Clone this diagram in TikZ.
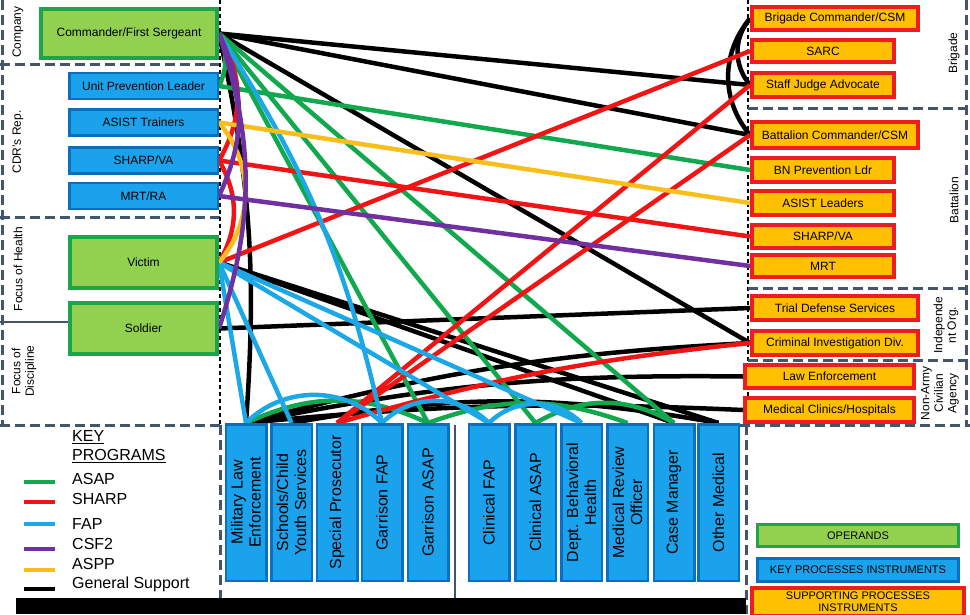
\documentclass[tikz,border=0pt]{standalone}
\usepackage{fontspec}
\setmainfont{Liberation Sans}
\usetikzlibrary{backgrounds}
\definecolor{opfill}{HTML}{92D050}
\definecolor{opline}{HTML}{1EA54A}
\definecolor{keyfill}{HTML}{1AA3EC}
\definecolor{keyline}{HTML}{0B6FBF}
\definecolor{supfill}{HTML}{FFC000}
\definecolor{supline}{HTML}{EE1C1C}
\definecolor{asapc}{HTML}{12A84E}
\definecolor{sharpc}{HTML}{F01414}
\definecolor{fapc}{HTML}{1CA8E6}
\definecolor{csfc}{HTML}{7030A0}
\definecolor{asppc}{HTML}{F8BE1C}
\definecolor{slate}{HTML}{44546A}

\begin{document}
\begin{tikzpicture}[x=1pt,y=-1pt,
  every node/.style={inner sep=0pt,align=center},
  lbl/.style={font=\fontsize{12}{14}\selectfont},
  opbox/.style={draw=opline,fill=opfill,line width=4pt,lbl},
  keybox/.style={draw=keyline,fill=keyfill,line width=2.5pt,lbl},
  supbox/.style={draw=supline,fill=supfill,line width=4pt,lbl},
  vbox/.style={keybox,rotate=90,minimum width=156.5,minimum height=40.5,font=\fontsize{16}{18}\selectfont},
  sz/.style 2 args={minimum width=#1,minimum height=#2},
  side/.style={rotate=90,font=\fontsize{12}{13.5}\selectfont},
  grp/.style={draw=slate,line width=3pt,dash pattern=on 10pt off 5pt},
  rim/.style={draw=black,line width=2pt,dash pattern=on 4pt off 3pt},
  keytxt/.style={anchor=west,font=\fontsize{16}{18}\selectfont},
  link/.style={line width=4.5pt},
  gen/.style={link,draw=black},
  asap/.style={link,draw=asapc},
  sharp/.style={link,draw=sharpc},
  fap/.style={link,draw=fapc},
  csf/.style={link,draw=csfc},
  aspp/.style={link,draw=asppc}]
\useasboundingbox (0,0) rectangle (970,614);

% Company, CDR's Rep., focus (left column)
\node[opbox,sz={176}{49}] (cfs) at (129,33.5) {Commander/First Sergeant};
\node[keybox,sz={148.5}{26}] (upl) at (143.5,86) {Unit Prevention Leader};
\node[keybox,sz={148.5}{26}] (asist) at (143.5,122.5) {ASIST Trainers};
\node[keybox,sz={148.5}{26}] (sharpl) at (143.5,160.5) {SHARP/VA};
\node[keybox,sz={148.5}{26}] (mrtl) at (143.5,196) {MRT/RA};
\node[opbox,sz={147}{51}] (victim) at (143.5,262.5) {Victim};
\node[opbox,sz={147}{51}] (soldier) at (143.5,328.5) {Soldier};

% group labels
\node[side] (lcomp) at (18,32) {Company};
\node[side] (lcdr) at (18,142) {CDR's Rep.};
\node[side] (lhealth) at (18,269) {Focus of Health};
\node[side] (ldisc) at (24,371) {Focus of\\Discipline};
\node[side] (lbde) at (954,53) {Brigade};
\node[side] (lbn) at (954,200) {Battalion};
\node[side] (lind) at (946,325) {Independe\\nt Org.};
\node[side] (lciv) at (940,393) {Non-Army\\Civilian\\Agency};

% Brigade, Battalion, other agencies (right column)
\node[supbox,sz={166}{23}] (bde) at (835,18.5) {Brigade Commander/CSM};
\node[supbox,sz={142}{22}] (sarc) at (823,51) {SARC};
\node[supbox,sz={142}{24}] (sja) at (823,85) {Staff Judge Advocate};
\node[supbox,sz={166}{26}] (bn) at (835,135) {Battalion Commander/CSM};
\node[supbox,sz={142}{24}] (bnpl) at (823,170) {BN Prevention Ldr};
\node[supbox,sz={142}{24}] (asistl) at (823,203) {ASIST Leaders};
\node[supbox,sz={142}{23}] (sharpr) at (823,236.5) {SHARP/VA};
\node[supbox,sz={142}{22}] (mrt) at (823,266) {MRT};
\node[supbox,sz={166}{24}] (tds) at (835,308) {Trial Defense Services};
\node[supbox,sz={166}{24}] (cid) at (835,343) {Criminal Investigation Div.};
\node[supbox,sz={169}{23}] (le) at (829.5,376.5) {Law Enforcement};
\node[supbox,sz={169}{24}] (mch) at (829.5,410) {Medical Clinics/Hospitals};

% key processes (bottom row, turned: .east is the top side)
\node[vbox] (mle) at (246,502.5) {Military Law\\Enforcement};
\node[vbox] (scys) at (291.5,502.5) {Schools/Child\\Youth Services};
\node[vbox] (sp) at (337,502.5) {Special Prosecutor};
\node[vbox] (gfap) at (382,502.5) {Garrison FAP};
\node[vbox] (gasap) at (428,502.5) {Garrison ASAP};
\node[vbox] (cfap) at (489,502.5) {Clinical FAP};
\node[vbox] (casap) at (535.5,502.5) {Clinical ASAP};
\node[vbox] (dbh) at (581.5,502.5) {Dept. Behavioral\\Health};
\node[vbox] (mro) at (627.5,502.5) {Medical Review\\Officer};
\node[vbox] (cm) at (674,502.5) {Case Manager};
\node[vbox] (om) at (718.5,502.5) {Other Medical};

% box legend
\node[opbox,line width=3pt,sz={201}{22},font=\fontsize{11}{13}\selectfont] (ops) at (858,535.5) {OPERANDS};
\node[keybox,sz={201}{23},font=\fontsize{11}{13}\selectfont] (kpi) at (858,570) {KEY PROCESSES INSTRUMENTS};
\node[supbox,sz={212}{28},font=\fontsize{11}{12}\selectfont] (spi) at (858,602) {SUPPORTING PROCESSES\\INSTRUMENTS};

% program legend
\node[keytxt] (keyt) at (72,437) {\underline{KEY}};
\node[keytxt] (progt) at (72,456) {\underline{PROGRAMS}};
\node[keytxt] (tasap) at (72,479) {ASAP};
\node[keytxt] (tsharp) at (72,499) {SHARP};
\node[keytxt] (tfap) at (72,524) {FAP};
\node[keytxt] (tcsf) at (72,544) {CSF2};
\node[keytxt] (taspp) at (72,564) {ASPP};
\node[keytxt] (tgen) at (72,584) {General Support};
\draw[asap,line width=4pt] (24,482) -- (55,482);
\draw[sharp,line width=4pt] (24,502) -- (55,502);
\draw[fap,line width=4pt] (24,524) -- (55,524);
\draw[csf,line width=4pt] (24,549) -- (55,549);
\draw[aspp,line width=4pt] (24,570) -- (55,570);
\draw[gen,line width=4pt] (24,589) -- (55,589);

\fill (16,598) rectangle (746,614);

\begin{scope}[on background layer]
% group frames
\draw[grp] (2,0) -- (2,425);
\draw[grp] (0,64) -- (220,64);
\draw[grp] (0,217) -- (220,217);
\draw[grp] (0,425) -- (220,425);
\draw[slate,line width=2.5pt] (0,322) -- (68,322);
\draw[grp] (220,425) -- (220,600);
\draw[rim] (220,0) -- (220,425);
\draw[rim] (748,0) -- (748,425);
\draw[grp] (746,425) -- (746,614);
\draw[grp] (748,108) -- (970,108);
\draw[grp] (748,288) -- (970,288);
\draw[grp] (748,360) -- (970,360);
\draw[grp] (740,425) -- (970,425);
\draw[grp] (966,0) -- (966,425);
\draw[slate,line width=2pt] (455,425) -- (455,614);

% General Support
\draw[gen] (cfs.east) -- (sja.west);
\draw[gen] (cfs.east) -- (bn.west);
\draw[gen] (cfs.east) -- (cid.west);
\draw[gen] (cfs.east) to[bend left=8] (mle.east);
\draw[gen] (bde.west) to[bend right=40] (sja.west);
\draw[gen] (bde.west) to[bend right=40] (bn.west);
\draw[gen] (soldier.east) -- (tds.west);
\draw[gen] (victim.east) -- (om.east);
\draw[gen] (victim.east) -- (cm.east);
\draw[gen] (mle.east) to[bend left=6] (cid.west);
\draw[gen] (mle.east) to[bend left=6] (le.west);
\draw[gen] (mle.east) to[bend left=4] (mch.west);
\draw[gen] (scys.east) to[bend left=10] (om.east);
% ASAP
\draw[asap] (upl.east) -- (bnpl.west);
\draw[asap] (upl.east) to[bend right=25] (cfs.east);
\draw[asap] (cfs.east) -- (gasap.east);
\draw[asap] (cfs.east) -- (casap.east);
\draw[asap] (cfs.east) -- (cm.east);
\draw[asap] (mle.east) to[bend left=25] (gasap.east);
\draw[asap] (gasap.east) to[bend left=20] (mro.east);
\draw[asap] (casap.east) to[bend left=30] (cm.east);
% SHARP
\draw[sharp] (sharpl.east) -- (sharpr.west);
\draw[sharp] (victim.east) -- (sarc.west);
\draw[sharp] (sp.east) -- (sja.west);
\draw[sharp] (sp.east) -- (bn.west);
\draw[sharp] (sp.east) to[bend left=5] (cid.west);
\draw[sharp] (cfs.east) to[bend left=30] (sharpl.east);
\draw[sharp] (sharpl.east) to[bend left=30] (victim.east);
% FAP
\draw[fap] (cfs.east) to[bend left=10] (gfap.east);
\draw[fap] (victim.east) -- (mle.east);
\draw[fap] (victim.east) -- (scys.east);
\draw[fap] (victim.east) -- (cfap.east);
\draw[fap] (victim.east) -- (dbh.east);
\draw[fap] (mle.east) to[bend left=45] (gfap.east);
\draw[fap] (gfap.east) to[bend left=45] (cfap.east);
\draw[fap] (cfap.east) to[bend left=45] (dbh.east);
% ASPP
\draw[aspp] (asist.east) -- (asistl.west);
\draw[aspp] (asist.east) to[bend left=40] (victim.east);
% CSF2
\draw[csf] (mrtl.east) -- (mrt.west);
\draw[csf] (cfs.east) to[bend left=18] (soldier.east);
\draw[csf] (mrtl.east) to[bend right=25] (cfs.east);
\end{scope}
\end{tikzpicture}
\end{document}
